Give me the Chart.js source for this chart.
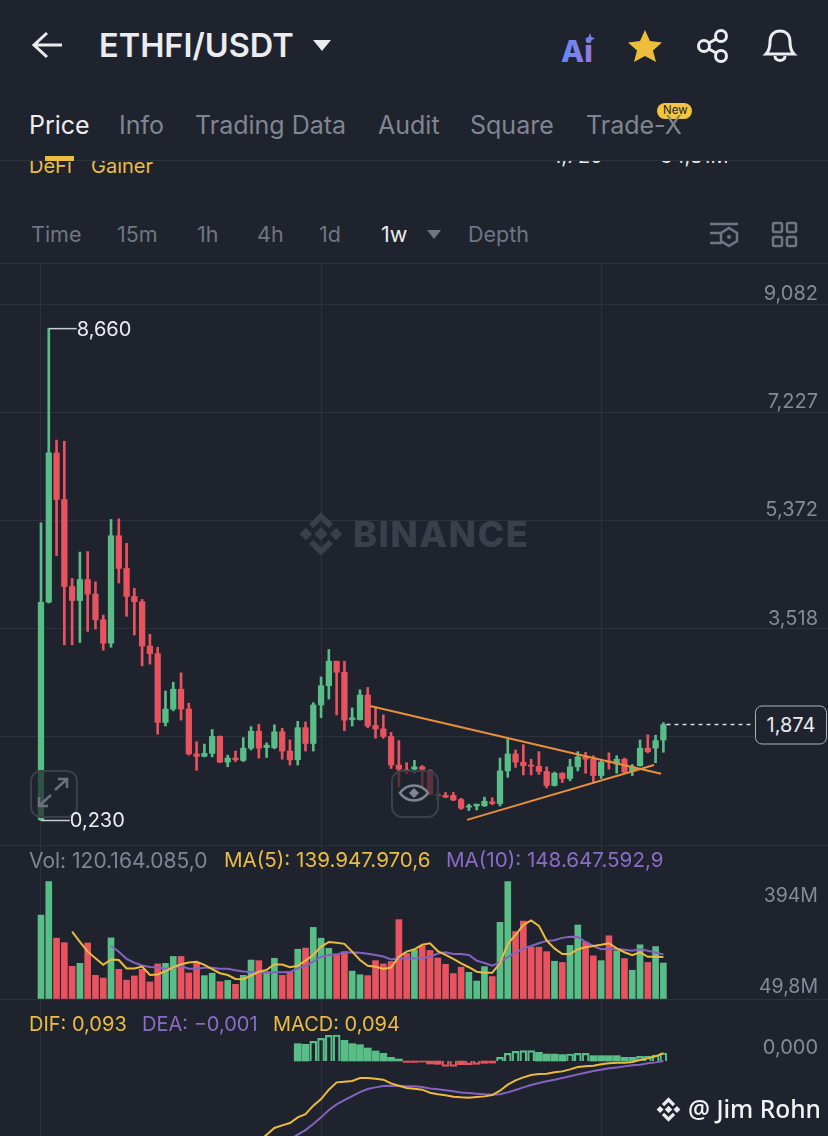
<!DOCTYPE html>
<html lang="en">
<head>
<meta charset="UTF-8">
<title>ETHFI/USDT</title>
<script src="https://cdn.jsdelivr.net/npm/chart.js@4.4.3/dist/chart.umd.min.js"></script>
<style>
  html, body { margin: 0; padding: 0; background: #1f232d; }
  #page { position: relative; width: 828px; height: 1136px; overflow: hidden; background: #1f232d; font-family: Inter, sans-serif; color: #eaecef; }
  #page canvas { position: absolute; left: 0; }
  .t { position: absolute; white-space: nowrap; transform: translateY(-50%); line-height: 1; z-index: 3; }
  .tab { font-size: 25px; color: #7f8692; }
  .range { font-size: 21.5px; color: #6f7682; }
  .info { font-size: 20.6px; }
  .info2 { font-size: 20px; }
  .yellow { color: #ebbd45; }
  .purple { color: #8a6cc6; }
  .grey { color: #7f8692; }
  .line { position: absolute; left: 0; width: 828px; height: 1px; background: #2c313b; }
  svg { position: absolute; z-index: 3; overflow: visible; }
  .box { position: absolute; width: 44px; height: 44px; border: 2px solid #3a3f49; border-radius: 11px; background: rgba(31,35,45,.7); z-index: 3; }
  #clip { position: absolute; left: 0; top: 161px; width: 828px; height: 30px; overflow: hidden; }
</style>
</head>
<body>
<div id="page">
  <svg width="0" height="0">
    <symbol id="bnb" viewBox="0 0 100 100">
      <polygon points="50,37 63,50 50,63 37,50"/>
      <polygon points="50,8 73,31 65,39 50,24 35,39 27,31"/>
      <polygon points="50,92 73,69 65,61 50,76 35,61 27,69"/>
      <polygon points="21,38 33,50 21,62 9,50"/>
      <polygon points="79,38 91,50 79,62 67,50"/>
    </symbol>
    <linearGradient id="aiGrad" x1="0" y1="0" x2="1" y2="0">
      <stop offset="0" stop-color="#5f8cf2"/><stop offset="1" stop-color="#9b78e0"/>
    </linearGradient>
  </svg>

  <!-- header -->
  <svg style="left:0;top:0" width="828" height="260" fill="none">
    <path d="M62 45H35M47 33L34 45L47 57" stroke="#eaecef" stroke-width="3"/>
    <path d="M313 40H331L322 51Z" fill="#eaecef"/>
    <text x="561" y="62" font-family="Inter" font-weight="800" font-size="30" fill="url(#aiGrad)">Ai</text>
    <path d="M590 33L591.500 37L595 38.500L591.500 40L590 44L588.500 40L585 38.500L588.500 37Z" fill="#6f7ff0"/>
    <path d="M645 30L650 41L662 42.500L653 50.500L656 62L645 56L634 62L637 50.500L628 42.500L640 41Z" fill="#edbd3c"/>
    <g stroke="#eaecef" stroke-width="3">
      <circle cx="721" cy="36" r="5.500"/><circle cx="704" cy="46" r="5.500"/><circle cx="721" cy="56" r="5.500"/>
      <path d="M709 43L716 39M709 49L716 53"/>
      <path d="M766 54C770 50 770 46 770 42C770 35 774 31 780 31C786 31 790 35 790 42C790 46 790 50 794 54Z"/>
      <path d="M775 56C775 62 785 62 785 56"/>
    </g>
    <rect x="657" y="103" width="35" height="16" rx="8" fill="#f4c53f"/>
    <rect x="45" y="156" width="29" height="5" fill="#ebbd45"/>
    <g stroke="#6f7682" stroke-width="2.500">
      <path d="M710 224H738M710 233H722M710 243H722"/>
      <path d="M729 228L737 233V241L729 246L721 241V233Z"/>
      <circle cx="729" cy="237" r="2" fill="#6f7682" stroke="none"/>
      <rect x="773" y="223" width="9" height="9" rx="1.500"/><rect x="787" y="223" width="9" height="9" rx="1.500"/>
      <rect x="773" y="237" width="9" height="9" rx="1.500"/><rect x="787" y="237" width="9" height="9" rx="1.500"/>
    </g>
    <path d="M427 230H441L434 239Z" fill="#6f7682"/>
  </svg>
  <span class="t" style="left:99px;top:46px;font-size:32.500px;font-weight:600">ETHFI/USDT</span>
  <span class="t tab" style="left:29px;top:125px;color:#eaecef">Price</span>
  <span class="t tab" style="left:119px;top:125px">Info</span>
  <span class="t tab" style="left:195px;top:125px">Trading Data</span>
  <span class="t tab" style="left:378px;top:125px">Audit</span>
  <span class="t tab" style="left:470px;top:125px">Square</span>
  <span class="t tab" style="left:586px;top:125px">Trade-X</span>
  <span class="t" style="left:663px;top:111px;font-size:11.500px;color:#1f232d;z-index:4">New</span>

  <div class="line" style="top:160px"></div>
  <div id="clip">
    <span class="t yellow" style="left:29px;top:5px;font-size:20px">DeFi</span>
    <span class="t yellow" style="left:91px;top:5px;font-size:20px">Gainer</span>
    <span class="t" style="left:553px;top:-5px;font-size:20px">1,725</span>
    <span class="t" style="left:660px;top:-5px;font-size:20px">34,81M</span>
  </div>

  <span class="t range" style="left:31px;top:235px">Time</span>
  <span class="t range" style="left:117px;top:235px">15m</span>
  <span class="t range" style="left:197px;top:235px">1h</span>
  <span class="t range" style="left:257px;top:235px">4h</span>
  <span class="t range" style="left:319px;top:235px">1d</span>
  <span class="t range" style="left:381px;top:235px;color:#eaecef">1w</span>
  <span class="t range" style="left:468px;top:235px">Depth</span>

  <div class="line" style="top:263px"></div>
  <div class="line" style="top:845px"></div>

  <!-- watermark sits under the charts -->
  <svg style="left:295px;top:508px" width="52" height="52" fill="#3a3f49"><use href="#bnb"/></svg>
  <span class="t" style="left:353px;top:534px;font-size:36px;font-weight:800;letter-spacing:1.500px;color:#3a3f49;z-index:0">BINANCE</span>

  <!-- price and macd charts lose 2px top and bottom to their tick labels, so the canvases are 4px taller -->
  <canvas id="priceChart" width="828" height="586" style="top:261px"></canvas>
  <canvas id="volChart" width="828" height="165" style="top:845px"></canvas>
  <canvas id="macdChart" width="828" height="130" style="top:1008px"></canvas>

  <span class="t info grey" style="left:29px;top:860px;font-size:21px">Vol: 120.164.085,0</span>
  <span class="t info yellow" style="left:224px;top:860px">MA(5): 139.947.970,6</span>
  <span class="t info purple" style="left:446px;top:860px">MA(10): 148.647.592,9</span>
  <span class="t info2 yellow" style="left:29px;top:1024px">DIF: 0,093</span>
  <span class="t info2 purple" style="left:142px;top:1024px">DEA: −0,001</span>
  <span class="t info2 yellow" style="left:273px;top:1024px">MACD: 0,094</span>

  <!-- floating buttons on the chart -->
  <div class="box" style="left:30px;top:770px"></div>
  <svg style="left:30px;top:770px" width="46" height="46" fill="none" stroke="#6b707b" stroke-width="2.500">
    <path d="M25 20L36 10M28 9H37V18M21 25L10 35M9 27V36H18"/>
  </svg>
  <div class="box" style="left:391px;top:770px"></div>
  <svg style="left:391px;top:770px" width="46" height="46" fill="none" stroke="#7f8692" stroke-width="2.500">
    <path d="M9 23C16 13 30 13 37 23C30 33 16 33 9 23Z"/>
    <path d="M23 18L28 23L23 28L18 23Z" fill="#7f8692" stroke="none"/>
  </svg>

  <svg style="left:654px;top:1095px" width="29" height="29" fill="#eaecef"><use href="#bnb"/></svg>
  <span class="t" style="left:688px;top:1109px;font-family:'Noto Sans',sans-serif;font-size:24.500px;font-weight:500;color:#f2f3f5;z-index:4">@ Jim Rohn</span>
</div>

<script>
// weekly candles, one entry per week
const opens = [0.24, 3.97, 6.53, 5.73, 4.24, 4.00, 4.36, 4.11, 3.67, 3.27, 5.11, 4.55, 4.07, 3.98, 3.22, 3.09,
  1.91, 2.14, 2.48, 2.14, 1.37, 1.33, 1.38, 1.67, 1.23, 1.30, 1.26, 1.47, 1.76, 1.48, 1.48, 1.75,
  1.42, 1.27, 1.82, 1.55, 2.21, 2.54, 2.96, 2.77, 1.96, 1.96, 2.38, 1.86, 1.80, 1.67, 1.18, 1.10,
  1.11, 1.15, 1.08, 0.67, 0.66, 0.66, 0.59, 0.46, 0.48, 0.48, 0.55, 0.52, 1.08, 1.37, 1.23, 1.18,
  1.16, 1.07, 0.83, 1.04, 0.95, 1.15, 1.32, 1.28, 1.00, 1.25, 1.20, 1.28, 1.07, 1.17, 1.47, 1.47, 1.61];
const highs = [5.33, 8.66, 6.75, 6.73, 4.38, 4.83, 4.84, 4.32, 3.75, 5.39, 5.40, 4.98, 4.21, 4.02, 3.42, 3.20,
  2.45, 2.60, 2.76, 2.24, 1.58, 1.54, 1.79, 1.68, 1.35, 1.42, 1.65, 1.84, 1.88, 1.56, 1.87, 1.81,
  1.61, 1.93, 1.92, 2.25, 2.69, 3.16, 2.96, 2.96, 2.16, 2.47, 2.51, 2.18, 2.04, 1.74, 1.60, 1.22,
  1.26, 1.17, 1.10, 0.72, 0.71, 0.71, 0.61, 0.51, 0.51, 0.63, 0.62, 1.30, 1.63, 1.44, 1.53, 1.28,
  1.41, 1.15, 1.06, 1.05, 1.28, 1.41, 1.40, 1.34, 1.25, 1.39, 1.34, 1.30, 1.19, 1.61, 1.70, 1.69, 1.91];
const lows = [0.23, 3.96, 4.77, 3.24, 3.24, 3.28, 3.47, 3.51, 3.15, 3.20, 4.30, 3.73, 3.41, 2.88, 2.91, 1.71,
  1.85, 2.11, 1.95, 1.35, 1.09, 1.32, 1.32, 1.22, 1.15, 1.24, 1.24, 1.44, 1.30, 1.31, 1.46, 1.28,
  1.18, 1.18, 1.42, 1.42, 1.99, 2.31, 2.04, 1.77, 1.85, 1.95, 1.82, 1.64, 1.64, 1.12, 0.81, 1.03,
  1.04, 0.81, 0.67, 0.58, 0.62, 0.57, 0.42, 0.40, 0.41, 0.47, 0.50, 0.48, 0.97, 1.14, 1.01, 1.01,
  1.02, 0.79, 0.82, 0.88, 0.91, 1.08, 1.04, 0.89, 0.95, 1.11, 1.04, 1.05, 1.00, 1.16, 1.39, 1.22, 1.40];
const closes = [3.97, 6.53, 5.73, 4.24, 4.00, 4.36, 4.11, 3.67, 3.27, 5.11, 4.55, 4.07, 3.98, 3.22, 3.09, 1.91,
  2.14, 2.48, 2.14, 1.37, 1.33, 1.38, 1.67, 1.23, 1.30, 1.27, 1.47, 1.76, 1.47, 1.52, 1.75, 1.42,
  1.27, 1.82, 1.55, 2.21, 2.54, 2.96, 2.77, 1.95, 1.99, 2.38, 1.85, 1.80, 1.67, 1.18, 1.11, 1.08,
  1.15, 1.11, 0.68, 0.66, 0.63, 0.58, 0.44, 0.48, 0.51, 0.56, 0.52, 1.08, 1.37, 1.23, 1.17, 1.16,
  1.07, 0.83, 1.04, 0.95, 1.15, 1.32, 1.28, 1.00, 1.23, 1.23, 1.28, 1.06, 1.15, 1.47, 1.41, 1.60, 1.874];

// volume in millions, the moving averages start once they have enough weeks
const volumes = [280, 392, 203, 188, 109, 119, 187, 79, 70, 204, 99, 63, 77, 99, 57, 117,
  119, 142, 142, 87, 122, 78, 86, 58, 62, 49, 79, 130, 128, 91, 136, 79,
  91, 166, 170, 239, 203, 169, 147, 158, 93, 81, 78, 128, 117, 125, 265, 152,
  164, 177, 162, 137, 116, 85, 106, 89, 60, 108, 75, 256, 392, 225, 260, 173,
  173, 158, 126, 122, 179, 247, 190, 144, 128, 211, 161, 135, 96, 181, 122, 175, 120];
const ma5Start = 4;
const ma5 = [225, 191, 158, 136, 114, 132, 130, 102, 102, 108, 80, 82, 93, 106, 116, 122, 124, 114, 100, 86,
  80, 67, 66, 78, 91, 97, 115, 115, 106, 111, 128, 147, 175, 190, 188, 184, 158, 130, 111, 108,
  100, 105, 141, 158, 166, 181, 186, 160, 147, 134, 119, 106, 91, 88, 88, 119, 184, 214, 247, 262,
  244, 195, 169, 150, 150, 166, 173, 177, 181, 186, 169, 156, 146, 156, 141, 141, 140];
const ma10Start = 9;
const ma10 = [177, 158, 134, 121, 112, 107, 106, 101, 104, 110, 101, 101, 104, 104, 101, 101, 96, 92, 90, 89,
  88, 89, 89, 90, 102, 110, 125, 141, 147, 149, 155, 155, 154, 151, 147, 142, 132, 136, 136, 135,
  137, 141, 152, 156, 150, 150, 147, 128, 120, 111, 122, 140, 154, 169, 177, 186, 194, 196, 204, 208,
  207, 190, 177, 166, 168, 167, 164, 161, 166, 161, 155, 149];

const histStart = 33;
const macdHist = [0.204, 0.196, 0.231, 0.267, 0.302, 0.306, 0.243, 0.204, 0.192, 0.153, 0.118, 0.090, 0.043, 0.024,
  -0.016, -0.016, -0.012, -0.035, -0.039, -0.063, -0.063, -0.043, -0.043, -0.039, -0.027, -0.024,
  0.043, 0.090, 0.114, 0.122, 0.122, 0.102, 0.082, 0.082, 0.075, 0.082, 0.090, 0.090, 0.063, 0.063, 0.063, 0.063,
  0.043, 0.043, 0.055, 0.059, 0.071, 0.094];
const hollowWeeks = [35, 36, 37, 38, 52, 53, 55, 56, 59, 60, 61, 62, 63, 68, 69, 70, 77, 78, 79, 80];
const difStart = 28;
const dif = [-0.945, -0.867, -0.788, -0.757, -0.729, -0.663, -0.624, -0.525, -0.447, -0.337, -0.251, -0.243, -0.235,
  -0.200, -0.200, -0.208, -0.220, -0.263, -0.290, -0.318, -0.325, -0.337, -0.373, -0.392, -0.404, -0.420, -0.427,
  -0.431, -0.424, -0.416, -0.400, -0.349, -0.278, -0.227, -0.192, -0.165, -0.153, -0.149, -0.133, -0.122, -0.098,
  -0.071, -0.063, -0.055, -0.039, -0.027, -0.020, -0.020, -0.012, 0.012, 0.031, 0.055, 0.093];
const deaStart = 32;
const dea = [-0.925, -0.867, -0.812, -0.741, -0.663, -0.576, -0.510, -0.459, -0.412, -0.365, -0.329, -0.310, -0.294,
  -0.290, -0.294, -0.298, -0.298, -0.306, -0.322, -0.333, -0.345, -0.357, -0.369, -0.376, -0.384, -0.392, -0.396,
  -0.392, -0.369, -0.341, -0.310, -0.282, -0.259, -0.239, -0.220, -0.200, -0.180, -0.157, -0.137, -0.118, -0.102,
  -0.086, -0.075, -0.063, -0.051, -0.043, -0.027, -0.016, -0.001];

const priceTicks = [9.082, 7.227, 5.372, 3.518, 1.663];
const hiddenPriceTicks = [1.663]; // covered by the last price tag in the app
const timeTicks = [0, 36, 72];
const highValue = 8.660;
const lowValue = 0.230;
const lastPrice = 1.874;
const trendDown = [[42.3, 2.193], [79.7, 1.03]];
const trendUp = [[54.76, 0.24], [78.8, 1.18]];

const GREEN = '#58bd86';
const RED = '#e8535f';
const YELLOW = '#ecbb3e';
const PURPLE = '#8463c0';
const ORANGE = '#e98f3c';
const GRID = '#2c313b';

const comma = (v, d) => v.toFixed(d).replace('.', ',');
const isUp = i => closes[i] >= opens[i];
const candleColors = closes.map((c, i) => isUp(i) ? GREEN : RED);
const series = (values, start) => values.map((y, j) => ({ x: start + j, y }));
const points = pairs => pairs.map(([x, y]) => ({ x, y }));

function lineSet(data, color, width, extra) {
    return Object.assign({ type: 'line', data, borderColor: color, borderWidth: width, pointRadius: 0, tension: 0, order: 0 }, extra);
}

// every panel shares the same week axis so the candles line up with the bars below
function panelChart(id, datasets, yOptions) {
    return new Chart(document.getElementById(id), {
        type: 'bar',
        data: { datasets },
        options: {
            responsive: false,
            animation: false,
            layout: { padding: 0, autoPadding: false },
            plugins: { legend: { display: false }, tooltip: { enabled: false } },
            scales: {
                x: {
                    type: 'linear',
                    min: -5.27,
                    max: 101.16,
                    offset: false,
                    border: { display: false },
                    grid: { offset: false, color: GRID, drawTicks: false },
                    ticks: { display: false, autoSkip: false },
                    afterBuildTicks: s => { s.ticks = timeTicks.map(value => ({ value })); },
                    afterFit: s => { s.height = 0; }
                },
                y: Object.assign({
                    position: 'right',
                    border: { display: false },
                    afterFit: s => { s.width = 0; }
                }, yOptions)
            }
        }
    });
}

const priceChart = panelChart('priceChart', [
    lineSet(points(trendDown), ORANGE, 2),
    lineSet(points(trendUp), ORANGE, 2),
    lineSet([{ x: 80.4, y: lastPrice }, { x: 91.5, y: lastPrice }], '#d5d8dc', 1.5, { borderDash: [4, 4] }),
    lineSet([{ x: 1, y: highValue }, { x: 4.6, y: highValue }], '#c9cdd3', 1.5),
    lineSet([{ x: 0, y: lowValue }, { x: 3.7, y: lowValue }], '#c9cdd3', 1.5),
    {
        data: opens.map((o, i) => ({ x: i, y: [o, closes[i]] })),
        backgroundColor: candleColors,
        barThickness: 5.6,
        grouped: false,
        order: 1
    },
    {
        data: lows.map((l, i) => ({ x: i, y: [l, highs[i]] })),
        backgroundColor: candleColors,
        barThickness: 2,
        grouped: false,
        order: 2
    }
], {
    min: -0.19,
    max: 9.785,
    grid: { color: GRID, drawTicks: false },
    afterBuildTicks: s => { s.ticks = priceTicks.map(value => ({ value })); },
    ticks: {
        mirror: true,
        padding: -10,
        labelOffset: -10,
        autoSkip: false,
        color: '#858b96',
        font: { family: 'Inter', size: 20 },
        callback: v => hiddenPriceTicks.includes(v) ? '' : comma(v, 3)
    }
});

const volChart = panelChart('volChart', [
    lineSet(series(ma5, ma5Start), YELLOW, 2),
    lineSet(series(ma10, ma10Start), PURPLE, 2),
    {
        data: series(volumes, 0),
        backgroundColor: candleColors,
        barThickness: 6,
        grouped: false,
        order: 1
    }
], {
    min: -36.7,
    max: 514,
    grid: { color: GRID, drawTicks: false },
    afterBuildTicks: s => { s.ticks = [{ value: 0 }]; },
    ticks: { display: false }
});

const macdChart = panelChart('macdChart', [
    lineSet(series(dif, difStart), YELLOW, 2),
    lineSet(series(dea, deaStart), PURPLE, 2),
    {
        data: series(macdHist, histStart),
        backgroundColor: macdHist.map((v, j) => hollowWeeks.includes(histStart + j) ? 'transparent' : (v >= 0 ? GREEN : RED)),
        borderColor: macdHist.map(v => v >= 0 ? GREEN : RED),
        borderWidth: macdHist.map((v, j) => hollowWeeks.includes(histStart + j) ? 1.5 : 0),
        barThickness: 7,
        grouped: false,
        order: 1
    }
], {
    min: -0.882,
    max: 0.6,
    grid: { display: false, drawTicks: false },
    afterBuildTicks: s => { s.ticks = [{ value: 0 }]; },
    ticks: {
        mirror: true,
        padding: -10,
        labelOffset: -13,
        color: '#858b96',
        font: { family: 'Inter', size: 20 },
        callback: v => comma(v, 3)
    }
});

// labels that hang off a data value, placed through the chart's own scales
function addLabel(chart, week, value, text, left, dy, css) {
    const page = document.getElementById('page');
    const el = document.createElement('span');
    el.className = 't';
    el.textContent = text;
    const top = chart.canvas.offsetTop + chart.scales.y.getPixelForValue(value) + dy;
    const x = week === null ? left : chart.scales.x.getPixelForValue(week) + left;
    el.style.cssText = `left:${x}px;top:${top}px;${css || ''}`;
    page.appendChild(el);
    return el;
}

addLabel(priceChart, 4.6, highValue, comma(highValue, 3), 0, 0, 'font-size:20px;color:#eaecef');
addLabel(priceChart, 3.7, lowValue, comma(lowValue, 3), 0, 0, 'font-size:20px;color:#eaecef');
addLabel(priceChart, null, lastPrice, comma(lastPrice, 3), 755, 0,
    'font-size:20px;color:#eaecef;background:#1f232d;border:1.5px solid #aeb2b8;border-radius:7px;box-sizing:border-box;width:72px;height:39px;line-height:36px;text-align:center;');
addLabel(volChart, null, 394, '394M', 818, 15, 'font-size:19.5px;color:#858b96;transform:translate(-100%,-50%)');
addLabel(volChart, null, 49.8, '49,8M', 818, 3, 'font-size:19.5px;color:#858b96;transform:translate(-100%,-50%)');
</script>
</body>
</html>
